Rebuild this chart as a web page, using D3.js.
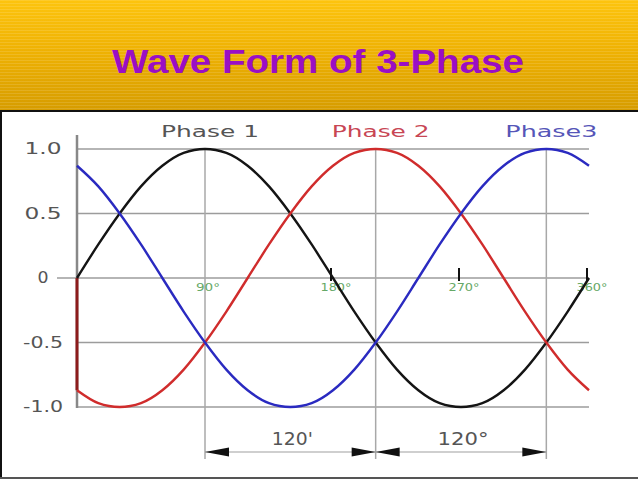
<!doctype html>
<meta charset="utf-8">
<title>Wave Form of 3-Phase</title>
<script src="https://cdn.jsdelivr.net/npm/d3@7/dist/d3.min.js"></script>
<style>
  body { margin: 0; background: #fff; }
  svg { display: block; }
</style>

<div class="chart"></div>

<script>
  // angles in degrees, one sample every 15 deg
  const angles = [0, 15, 30, 45, 60, 75, 90, 105, 120, 135, 150, 165, 180,
    195, 210, 225, 240, 255, 270, 285, 300, 315, 330, 345, 360]

  const phase1 = [0, 0.26, 0.5, 0.71, 0.87, 0.97, 1, 0.97, 0.87, 0.71, 0.5, 0.26, 0,
    -0.26, -0.5, -0.71, -0.87, -0.97, -1, -0.97, -0.87, -0.71, -0.5, -0.26, 0]
  const phase2 = [-0.87, -0.97, -1, -0.97, -0.87, -0.71, -0.5, -0.26, 0, 0.26, 0.5, 0.71, 0.87,
    0.97, 1, 0.97, 0.87, 0.71, 0.5, 0.26, 0, -0.26, -0.5, -0.71, -0.87]
  const phase3 = [0.87, 0.71, 0.5, 0.26, 0, -0.26, -0.5, -0.71, -0.87, -0.97, -1, -0.97, -0.87,
    -0.71, -0.5, -0.26, 0, 0.26, 0.5, 0.71, 0.87, 0.97, 1, 0.97, 0.87]

  const seriesNames = ['Phase 1', 'Phase 2', 'Phase3']
  const peakAngles = [90, 210, 330]

  const yTicks = [1, 0.5, 0, -0.5, -1]
  const yTickLabels = ['1.0', '0.5', '0', '-0.5', '-1.0']
  const xTicks = [90, 180, 270, 360]
  const xTickLabels = ['90°', '180°', '270°', '360°']

  const spans = [[90, 210], [210, 330]]
  const spanLabels = ["120'", '120°']

  const W = 638, H = 479

  const svg = d3.select('.chart')
    .append('svg')
    .attr('width', W)
    .attr('height', H)

  const defs = svg.append('defs')
  const grad = defs.append('linearGradient')
    .attr('id', 'band')
    .attr('x1', 0).attr('y1', 0).attr('x2', 0).attr('y2', 1)
  grad.append('stop').attr('offset', '0%').attr('stop-color', '#fdc40e')
  grad.append('stop').attr('offset', '45%').attr('stop-color', '#efb203')
  grad.append('stop').attr('offset', '100%').attr('stop-color', '#d69c00')

  const stripes = defs.append('pattern')
    .attr('id', 'stripes')
    .attr('width', 8).attr('height', 3)
    .attr('patternUnits', 'userSpaceOnUse')
  stripes.append('rect')
    .attr('width', 8).attr('height', 1)
    .attr('fill', '#fff').attr('opacity', 0.12)

  // title band
  svg.append('rect').attr('width', W).attr('height', 111).attr('fill', 'url(#band)')
  svg.append('rect').attr('width', W).attr('height', 111).attr('fill', 'url(#stripes)')
  svg.append('line')
    .attr('x1', 0).attr('x2', W).attr('y1', 111).attr('y2', 111)
    .attr('stroke', '#111').attr('stroke-width', 2)

  svg.append('text')
    .attr('x', 318).attr('y', 73)
    .attr('text-anchor', 'middle')
    .attr('font-family', 'Liberation Sans, Arial, sans-serif')
    .attr('font-weight', 'bold')
    .attr('font-size', 33)
    .attr('fill', '#9a0fc4')
    .attr('textLength', 412)
    .attr('lengthAdjust', 'spacingAndGlyphs')
    .text('Wave Form of 3-Phase')

  // chart frame
  svg.append('line')
    .attr('x1', 1).attr('x2', 1).attr('y1', 112).attr('y2', H)
    .attr('stroke', '#111').attr('stroke-width', 2)
  svg.append('line')
    .attr('x1', 0).attr('x2', W).attr('y1', 478).attr('y2', 478)
    .attr('stroke', '#555').attr('stroke-width', 2)

  const x = d3.scaleLinear().domain([0, 360]).range([77, 589])
  const y = d3.scaleLinear().domain([-1, 1]).range([407, 149])

  const chart = svg.append('g')

  // horizontal grid
  chart.selectAll('.hgrid')
    .data(yTicks)
    .enter()
    .append('line')
    .attr('x1', d => d === 0 ? 57 : x(0))
    .attr('x2', x(360))
    .attr('y1', d => y(d))
    .attr('y2', d => y(d))
    .attr('stroke', '#9c9c9c')
    .attr('stroke-width', 1.5)

  // vertical lines through peaks
  chart.selectAll('.vgrid')
    .data(peakAngles)
    .enter()
    .append('line')
    .attr('x1', d => x(d)).attr('x2', d => x(d))
    .attr('y1', y(1)).attr('y2', 459)
    .attr('stroke', '#a8a8a8')
    .attr('stroke-width', 1.5)

  // y axis
  chart.append('line')
    .attr('x1', x(0)).attr('x2', x(0))
    .attr('y1', 135).attr('y2', y(-1) + 1)
    .attr('stroke', '#888').attr('stroke-width', 2.5)

  const yLabW = { '1.0': 37, '0.5': 37, '0': 11, '-0.5': 40, '-1.0': 40 }
  chart.selectAll('.ylab')
    .data(yTicks)
    .enter()
    .append('text')
    .attr('x', 43)
    .attr('y', d => y(d) + 5)
    .attr('text-anchor', 'middle')
    .attr('font-family', 'DejaVu Sans, sans-serif')
    .attr('font-size', 16.5)
    .attr('fill', '#555')
    .attr('textLength', (d, i) => yLabW[yTickLabels[i]])
    .attr('lengthAdjust', 'spacingAndGlyphs')
    .text((d, i) => yTickLabels[i])

  // x ticks (the 90 deg one is covered by the grid line)
  chart.selectAll('.xtick')
    .data(xTicks.filter(d => peakAngles.indexOf(d) < 0))
    .enter()
    .append('line')
    .attr('x1', d => x(d) - 2).attr('x2', d => x(d) - 2)
    .attr('y1', y(0) - 10).attr('y2', y(0) + 3)
    .attr('stroke', '#111').attr('stroke-width', 2)

  chart.selectAll('.xlab')
    .data(xTicks)
    .enter()
    .append('text')
    .attr('x', d => x(d) + 3)
    .attr('y', y(0) + 13)
    .attr('text-anchor', 'middle')
    .attr('font-family', 'DejaVu Sans, sans-serif')
    .attr('font-size', 11)
    .attr('fill', '#66a866')
    .attr('textLength', (d, i) => i === 0 ? 24 : 31)
    .attr('lengthAdjust', 'spacingAndGlyphs')
    .text((d, i) => xTickLabels[i])

  // waves
  const colors = ['#141414', '#d02c2c', '#2a2ac0']
  const series = [phase1, phase2, phase3]

  const line = d3.line()
    .x((d, i) => x(angles[i]))
    .y(d => y(d))
    .curve(d3.curveMonotoneX)

  // phase 2 jumps in at the origin
  chart.append('line')
    .attr('x1', x(0)).attr('x2', x(0))
    .attr('y1', y(0)).attr('y2', y(phase2[0]))
    .attr('stroke', '#8c1c1c').attr('stroke-width', 3)

  chart.selectAll('.wave')
    .data(series)
    .enter()
    .append('path')
    .attr('d', line)
    .attr('fill', 'none')
    .attr('stroke', (d, i) => colors[i])
    .attr('stroke-width', 2.4)

  // legend labels over each peak
  const legendColors = ['#555', '#c84654', '#5656b8']
  chart.selectAll('.legend')
    .data(seriesNames)
    .enter()
    .append('text')
    .attr('x', (d, i) => x(peakAngles[i]) + 5)
    .attr('y', 137)
    .attr('text-anchor', 'middle')
    .attr('font-family', 'DejaVu Sans, sans-serif')
    .attr('font-size', 16.5)
    .attr('fill', (d, i) => legendColors[i])
    .attr('textLength', (d, i) => i === 2 ? 92 : 98)
    .attr('lengthAdjust', 'spacingAndGlyphs')
    .text(d => d)

  // 120 deg dimension arrows
  const ay = 452
  const span = chart.selectAll('.span')
    .data(spans)
    .enter()
    .append('g')

  span.append('line')
    .attr('x1', d => x(d[0])).attr('x2', d => x(d[1]))
    .attr('y1', ay).attr('y2', ay)
    .attr('stroke', '#a0a0a0').attr('stroke-width', 1.2)

  span.append('path')
    .attr('d', d => {
      const a = x(d[0]), b = x(d[1])
      return `M${a},${ay}L${a + 24},${ay - 4.5}L${a + 24},${ay + 4.5}Z` +
        `M${b},${ay}L${b - 24},${ay - 4.5}L${b - 24},${ay + 4.5}Z`
    })
    .attr('fill', '#111')

  span.append('text')
    .attr('x', d => (x(d[0]) + x(d[1])) / 2 + 2)
    .attr('y', 445)
    .attr('text-anchor', 'middle')
    .attr('font-family', 'DejaVu Sans, sans-serif')
    .attr('font-size', 18)
    .attr('fill', '#555')
    .attr('textLength', (d, i) => i === 0 ? 41 : 51)
    .attr('lengthAdjust', 'spacingAndGlyphs')
    .text((d, i) => spanLabels[i])
</script>
